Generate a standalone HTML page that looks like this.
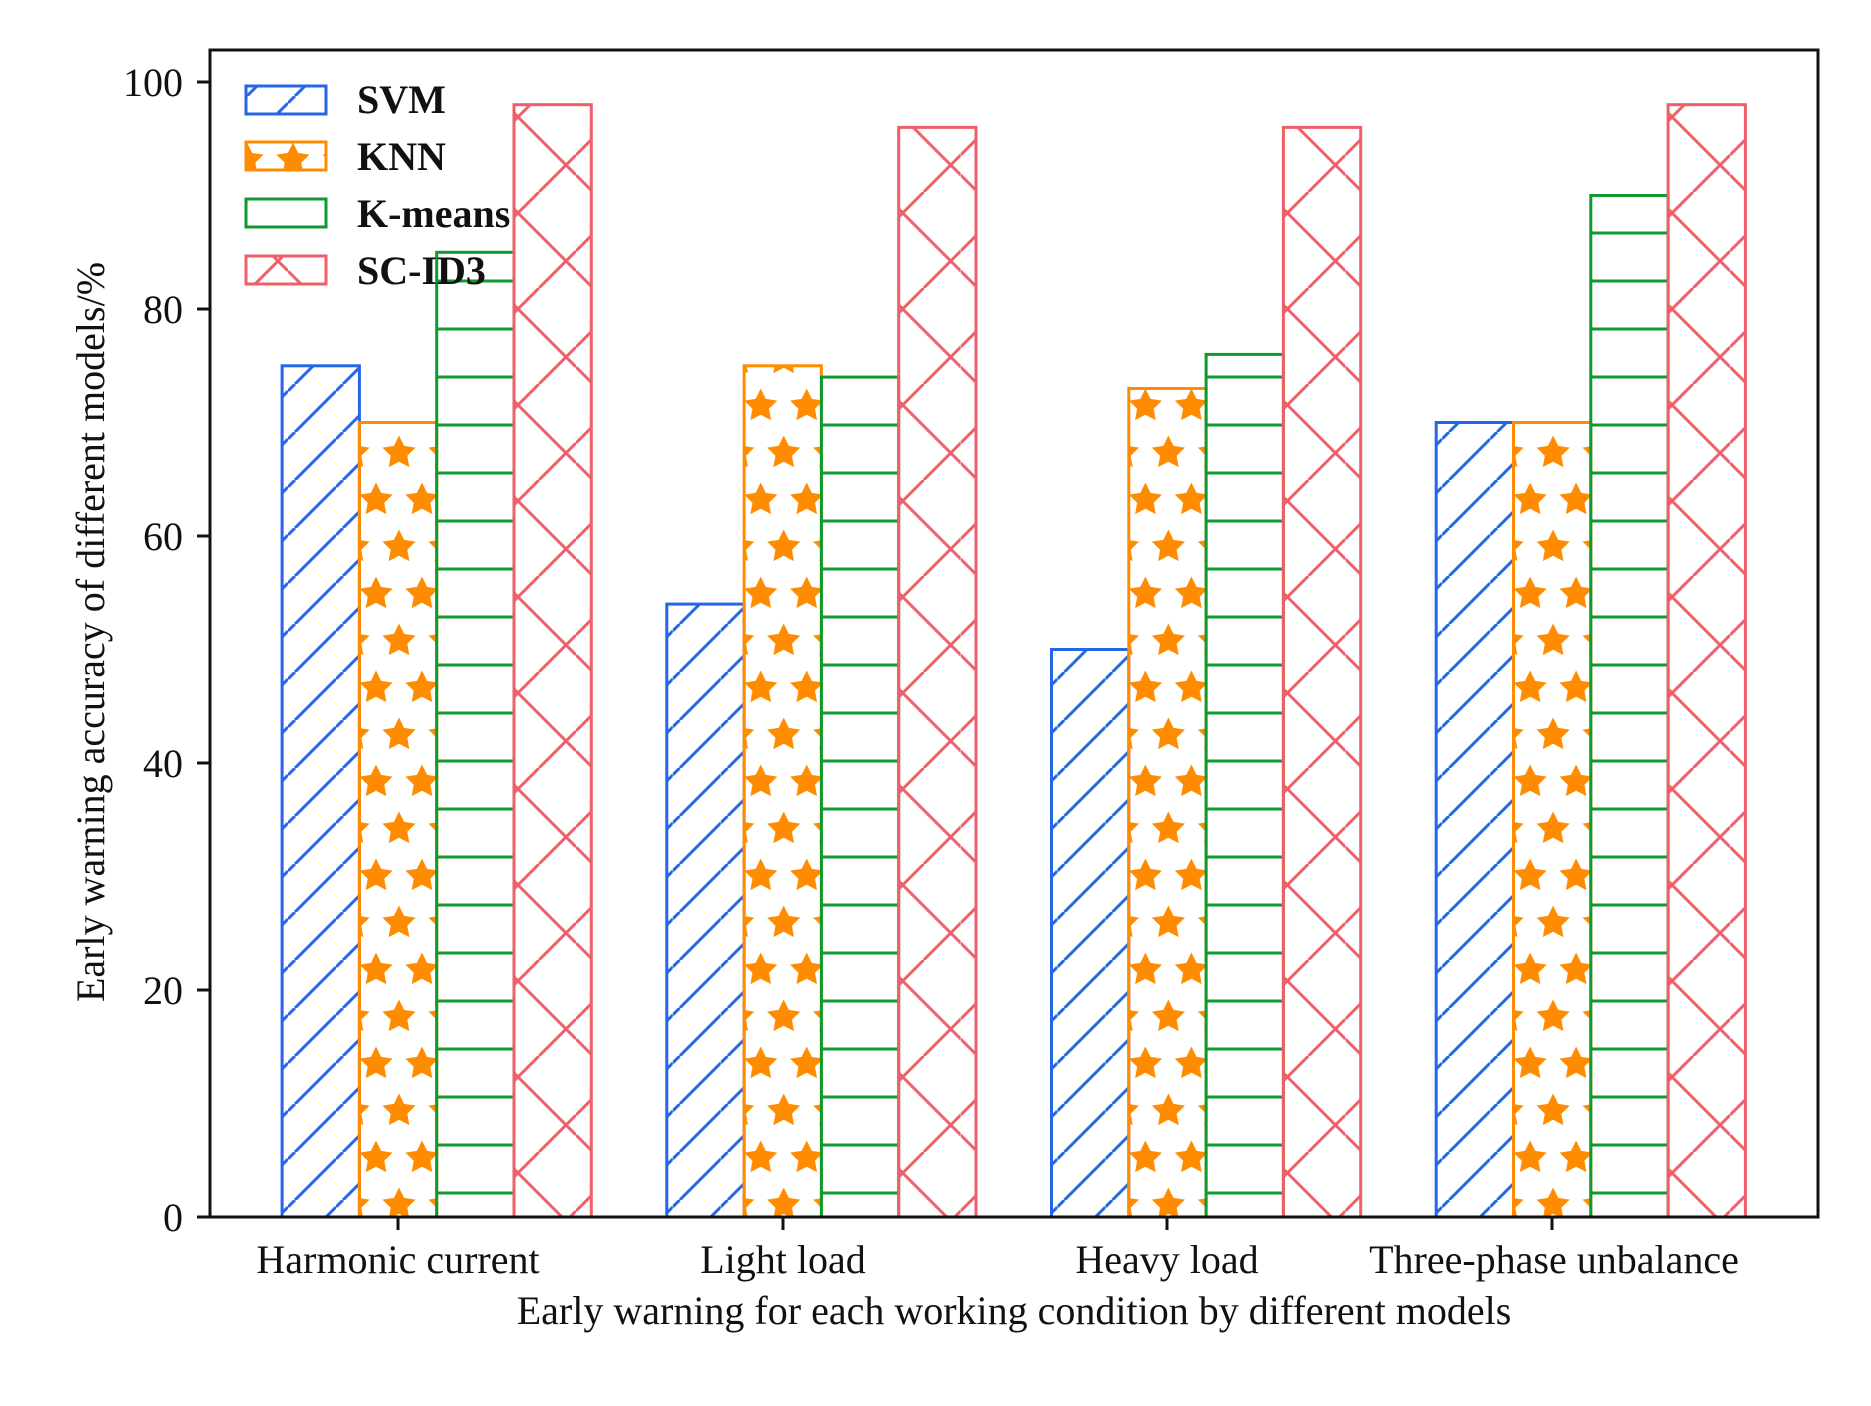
<!DOCTYPE html>
<html><head><meta charset="utf-8"><style>
html,body{margin:0;padding:0;background:#fff;}
svg{display:block;}
text{font-family:"Liberation Serif",serif;fill:#111;}
</style></head><body>
<svg width="1871" height="1406" viewBox="0 0 1871 1406" xmlns="http://www.w3.org/2000/svg">
<defs>
<g id="sT">
<line x1="0" y1="7" x2="7" y2="0" stroke="#2466e6" stroke-width="3"/>
<line x1="7" y1="48" x2="48" y2="7" stroke="#2466e6" stroke-width="3"/>
</g>
<g id="rT" stroke="#ee6068" stroke-width="3">
<line x1="0" y1="59" x2="59" y2="0"/>
<line x1="59" y1="96" x2="96" y2="59"/>
<line x1="17" y1="0" x2="96" y2="79"/>
<line x1="0" y1="79" x2="17" y2="96"/>
</g>
<path id="star" d="M0,-17.5 L5.1,-7.1 L16.6,-5.4 L8.3,2.7 L10.3,14.1 L0,8.8 L-10.3,14.1 L-8.3,2.7 L-16.6,-5.4 L-5.1,-7.1 Z" fill="#ff8c00"/>
<g id="kT">
<use href="#star" x="0" y="0"/><use href="#star" x="46" y="0"/>
<use href="#star" x="0" y="94"/><use href="#star" x="46" y="94"/>
<use href="#star" x="23" y="47"/>
</g>

<pattern id="pS0" patternUnits="userSpaceOnUse" width="48" height="48"><use href="#sT"/></pattern>
<pattern id="pS1" patternUnits="userSpaceOnUse" width="48" height="48" patternTransform="translate(-38.6,0)"><use href="#sT"/></pattern>
<pattern id="pS2" patternUnits="userSpaceOnUse" width="48" height="48" patternTransform="translate(346.1,0)"><use href="#sT"/></pattern>
<pattern id="pS3" patternUnits="userSpaceOnUse" width="48" height="48" patternTransform="translate(730.8,0)"><use href="#sT"/></pattern>
<pattern id="pS4" patternUnits="userSpaceOnUse" width="48" height="48" patternTransform="translate(1115.5,0)"><use href="#sT"/></pattern>

<pattern id="pR0" patternUnits="userSpaceOnUse" width="96" height="96"><use href="#rT"/></pattern>
<pattern id="pR1" patternUnits="userSpaceOnUse" width="96" height="96" patternTransform="translate(-38.6,0)"><use href="#rT"/></pattern>
<pattern id="pR2" patternUnits="userSpaceOnUse" width="96" height="96" patternTransform="translate(346.1,0)"><use href="#rT"/></pattern>
<pattern id="pR3" patternUnits="userSpaceOnUse" width="96" height="96" patternTransform="translate(730.8,0)"><use href="#rT"/></pattern>
<pattern id="pR4" patternUnits="userSpaceOnUse" width="96" height="96" patternTransform="translate(1115.5,0)"><use href="#rT"/></pattern>

<pattern id="pK0" patternUnits="userSpaceOnUse" width="46" height="94" patternTransform="translate(17,160)"><use href="#kT"/></pattern>
<pattern id="pK1" patternUnits="userSpaceOnUse" width="46" height="94" patternTransform="translate(-7.6,77)"><use href="#kT"/></pattern>
<pattern id="pK2" patternUnits="userSpaceOnUse" width="46" height="94" patternTransform="translate(377.1,77)"><use href="#kT"/></pattern>
<pattern id="pK3" patternUnits="userSpaceOnUse" width="46" height="94" patternTransform="translate(761.8,77)"><use href="#kT"/></pattern>
<pattern id="pK4" patternUnits="userSpaceOnUse" width="46" height="94" patternTransform="translate(1146.5,77)"><use href="#kT"/></pattern>

<pattern id="pG" patternUnits="userSpaceOnUse" width="48" height="48">
<line x1="0" y1="41" x2="48" y2="41" stroke="#0e9a2e" stroke-width="3"/>
</pattern>
</defs>

<g stroke-width="3" transform="translate(38.6,0)">
<rect x="243.5" y="365.8" width="77.3" height="851.2" fill="url(#pS1)" stroke="#2466e6"/>
<rect x="320.8" y="422.5" width="77.3" height="794.5" fill="url(#pK1)" stroke="#ff8c00"/>
<rect x="398.1" y="252.3" width="77.3" height="964.7" fill="url(#pG)" stroke="#0e9a2e"/>
<rect x="475.4" y="104.7" width="77.3" height="1112.3" fill="url(#pR1)" stroke="#ee6068"/>
<rect x="628.2" y="604.1" width="77.3" height="612.9" fill="url(#pS2)" stroke="#2466e6"/>
<rect x="705.5" y="365.8" width="77.3" height="851.2" fill="url(#pK2)" stroke="#ff8c00"/>
<rect x="782.8" y="377.1" width="77.3" height="839.9" fill="url(#pG)" stroke="#0e9a2e"/>
<rect x="860.1" y="127.4" width="77.3" height="1089.6" fill="url(#pR2)" stroke="#ee6068"/>
<rect x="1012.9" y="649.5" width="77.3" height="567.5" fill="url(#pS3)" stroke="#2466e6"/>
<rect x="1090.2" y="388.5" width="77.3" height="828.5" fill="url(#pK3)" stroke="#ff8c00"/>
<rect x="1167.5" y="354.4" width="77.3" height="862.6" fill="url(#pG)" stroke="#0e9a2e"/>
<rect x="1244.8" y="127.4" width="77.3" height="1089.6" fill="url(#pR3)" stroke="#ee6068"/>
<rect x="1397.6" y="422.5" width="77.3" height="794.5" fill="url(#pS4)" stroke="#2466e6"/>
<rect x="1474.9" y="422.5" width="77.3" height="794.5" fill="url(#pK4)" stroke="#ff8c00"/>
<rect x="1552.2" y="195.5" width="77.3" height="1021.5" fill="url(#pG)" stroke="#0e9a2e"/>
<rect x="1629.5" y="104.7" width="77.3" height="1112.3" fill="url(#pR4)" stroke="#ee6068"/>
</g>

<rect x="210" y="50" width="1608" height="1167" fill="none" stroke="#111" stroke-width="3"/>
<g stroke="#111" stroke-width="3">
<line x1="197" y1="1217" x2="210" y2="1217"/>
<line x1="197" y1="990" x2="210" y2="990"/>
<line x1="197" y1="763" x2="210" y2="763"/>
<line x1="197" y1="536" x2="210" y2="536"/>
<line x1="197" y1="309" x2="210" y2="309"/>
<line x1="197" y1="82" x2="210" y2="82"/>
<line x1="398" y1="1217" x2="398" y2="1230"/>
<line x1="783" y1="1217" x2="783" y2="1230"/>
<line x1="1167" y1="1217" x2="1167" y2="1230"/>
<line x1="1552" y1="1217" x2="1552" y2="1230"/>
</g>
<g font-size="40" text-anchor="end">
<text x="183" y="1231">0</text>
<text x="183" y="1004">20</text>
<text x="183" y="777">40</text>
<text x="183" y="550">60</text>
<text x="183" y="323">80</text>
<text x="183" y="96">100</text>
</g>
<g font-size="40" text-anchor="middle">
<text x="398" y="1273">Harmonic current</text>
<text x="783" y="1273">Light load</text>
<text x="1167" y="1273">Heavy load</text>
<text x="1554" y="1273">Three-phase unbalance</text>
<text x="1014" y="1324">Early warning for each working condition by different models</text>
<text transform="translate(104,632) rotate(-90)">Early warning accuracy of different models/%</text>
</g>

<g stroke-width="3">
<rect x="246" y="86" width="80" height="28" fill="url(#pS0)" stroke="#2466e6"/>
<rect x="246" y="142" width="80" height="28" fill="url(#pK0)" stroke="#ff8c00"/>
<rect x="246" y="199" width="80" height="28" fill="url(#pG)" stroke="#0e9a2e"/>
<rect x="246" y="256" width="80" height="28" fill="url(#pR0)" stroke="#ee6068"/>
</g>
<g font-size="40" font-weight="bold">
<text x="357" y="113">SVM</text>
<text x="357" y="170">KNN</text>
<text x="357" y="227">K-means</text>
<text x="357" y="284">SC-ID3</text>
</g>
</svg>
</body></html>
